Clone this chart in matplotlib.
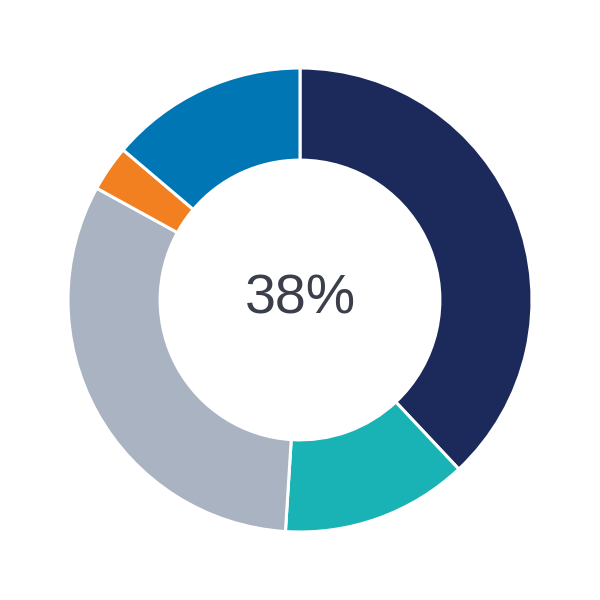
import matplotlib
matplotlib.use("Agg")
import matplotlib.pyplot as plt

labels = ["A", "B", "C", "D", "E"]
values = [38, 13, 32, 3.2, 13.8]
colors = ["#1b2a5a", "#1ab3b5", "#a9b3c2", "#f28021", "#0076b4"]
center_label = "38%"

fig = plt.figure(figsize=(6, 6), dpi=100)
ax = fig.add_axes([0, 0, 1, 1])

ax.pie(
    values,
    colors=colors,
    startangle=90,
    counterclock=False,
    radius=1.0,
    wedgeprops=dict(width=0.397, edgecolor="white", linewidth=2.2),
)
ax.text(0, 0, center_label, ha="center", va="center", fontsize=40,
        color="#3a3f4a", family=["Liberation Sans", "DejaVu Sans"])

lim = 300 / 232
ax.set_xlim(-lim, lim)
ax.set_ylim(-lim, lim)
ax.set_aspect("equal")
ax.axis("off")

fig.savefig("out.png", dpi=100, facecolor="white")
